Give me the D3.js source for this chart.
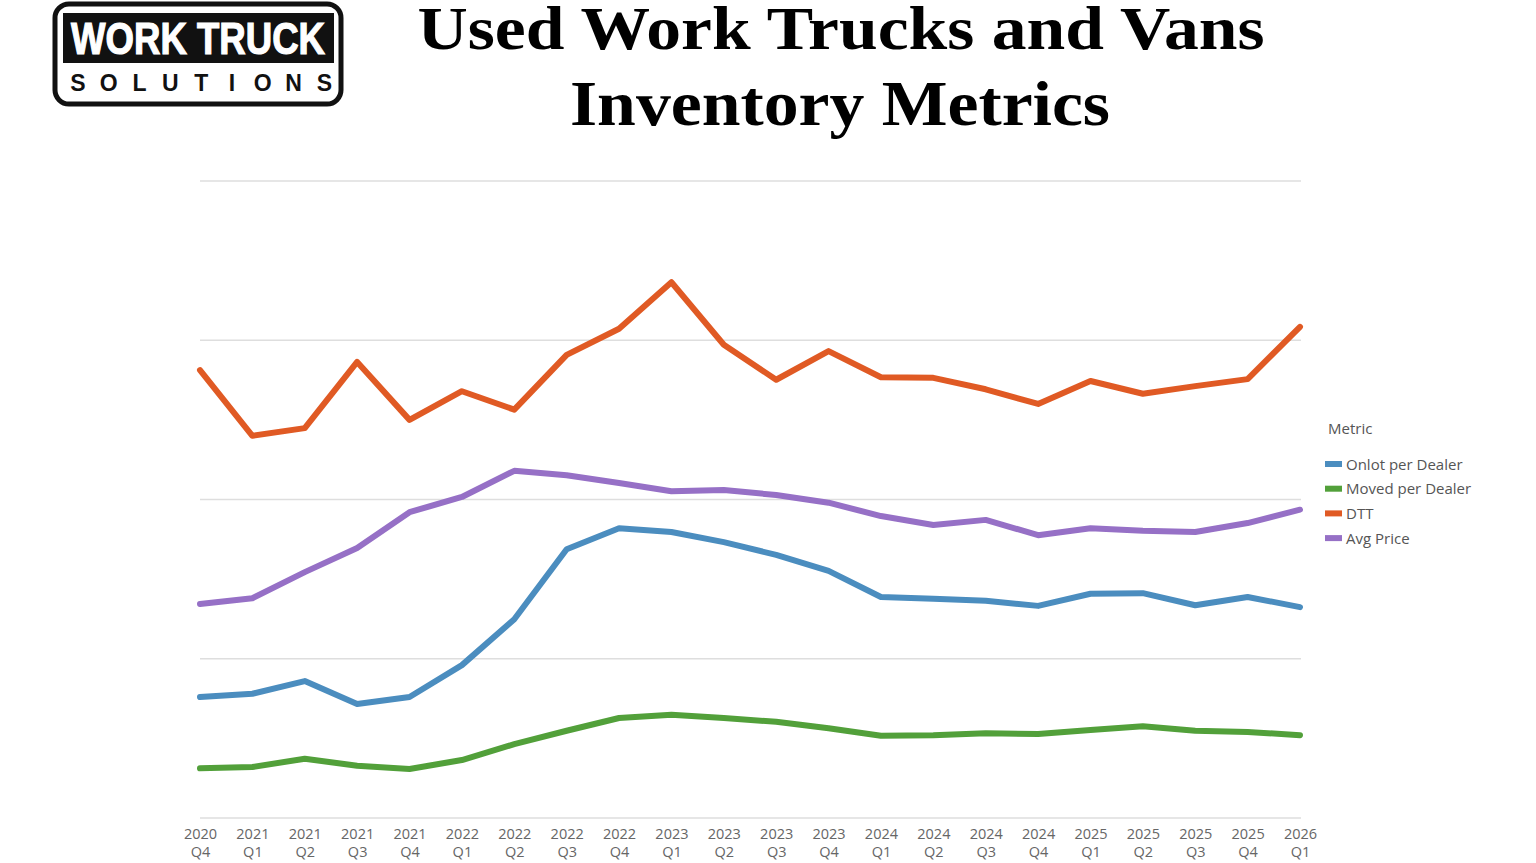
<!DOCTYPE html>
<html>
<head>
<meta charset="utf-8">
<script src="https://cdn.jsdelivr.net/npm/d3@7"></script>
<style>
  body { margin: 0; background: #fff; }
  svg { display: block; }
</style>
</head>
<body>
<div id="chart"></div>
<script>
// Quarters on the x axis (year / quarter)
const quarters = ["2020 Q4", "2021 Q1", "2021 Q2", "2021 Q3", "2021 Q4", "2022 Q1", "2022 Q2", "2022 Q3",
  "2022 Q4", "2023 Q1", "2023 Q2", "2023 Q3", "2023 Q4", "2024 Q1", "2024 Q2", "2024 Q3", "2024 Q4",
  "2025 Q1", "2025 Q2", "2025 Q3", "2025 Q4", "2026 Q1"];

// Values (no axis labels in the source, so an index 0-100)
const onlot = [19.0, 19.5, 21.5, 17.9, 19.0, 24.0, 31.2, 42.2, 45.5, 44.9, 43.3, 41.3, 38.8, 34.7, 34.4, 34.1, 33.3, 35.2, 35.3, 33.4, 34.7, 33.1];
const moved = [7.8, 8.0, 9.3, 8.2, 7.7, 9.1, 11.6, 13.7, 15.7, 16.2, 15.7, 15.1, 14.1, 12.9, 13.0, 13.3, 13.2, 13.8, 14.4, 13.7, 13.5, 13.0];
const dtt = [70.3, 60.0, 61.2, 71.6, 62.5, 67.0, 64.1, 72.7, 76.8, 84.1, 74.3, 68.8, 73.3, 69.2, 69.1, 67.3, 65.0, 68.6, 66.6, 67.8, 68.9, 77.1];
const avgPrice = [33.6, 34.5, 38.6, 42.4, 48.0, 50.4, 54.5, 53.8, 52.6, 51.3, 51.5, 50.7, 49.5, 47.4, 46.0, 46.8, 44.4, 45.5, 45.1, 44.9, 46.3, 48.4];
const gridTicks = [0, 25, 50, 75, 100];

const metricNames = ["Onlot per Dealer", "Moved per Dealer", "DTT", "Avg Price"];
const metricColors = ["#4b8dbf", "#52a03a", "#e05a24", "#9670c6"];
const metricValues = [onlot, moved, dtt, avgPrice];

const W = 1536, H = 863;
const svg = d3.select('#chart').append('svg')
    .attr('width', W)
    .attr('height', H);

const x = d3.scalePoint().domain(quarters).range([200, 1300]);
const y = d3.scaleLinear().domain([0, 100]).range([818, 181]);

// grid lines
svg.append('g')
   .selectAll('line')
   .data(gridTicks)
   .enter()
   .append('line')
   .attr('x1', 200)
   .attr('x2', 1301)
   .attr('y1', d => y(d))
   .attr('y2', d => y(d))
   .attr('stroke', '#dedede')
   .attr('stroke-width', 1.5);

// x axis labels, two lines each
const xAxis = svg.append('g')
    .attr('transform', 'translate(0,818)')
    .call(d3.axisBottom(x).tickSize(0).tickPadding(0));
xAxis.select('.domain').remove();
xAxis.selectAll('.tick text').remove();
xAxis.selectAll('.tick').each(function(d) {
    const parts = d.split(' ');
    const t = d3.select(this).append('text')
        .attr('text-anchor', 'middle')
        .attr('fill', '#666')
        .style('font-family', '"Open Sans", sans-serif')
        .style('font-size', '14.5px');
    t.append('tspan').attr('x', 0).attr('y', 21).text(parts[0]);
    t.append('tspan').attr('x', 0).attr('y', 39).text(parts[1]);
});

// lines
const line = d3.line()
    .x((d, i) => x(quarters[i]))
    .y(d => y(d));

svg.append('g')
   .selectAll('path')
   .data(metricValues)
   .enter()
   .append('path')
   .attr('d', d => line(d))
   .attr('fill', 'none')
   .attr('stroke', (d, i) => metricColors[i])
   .attr('stroke-width', 6)
   .attr('stroke-linejoin', 'round')
   .attr('stroke-linecap', 'round');

// legend
const legend = svg.append('g').attr('transform', 'translate(1325,0)');
legend.append('text')
    .attr('x', 3)
    .attr('y', 434)
    .attr('fill', '#555')
    .style('font-family', '"Open Sans", sans-serif')
    .style('font-size', '15px')
    .text('Metric');
const items = legend.selectAll('g.item')
    .data(metricNames)
    .enter()
    .append('g')
    .attr('class', 'item')
    .attr('transform', (d, i) => 'translate(0,' + (464 + i * 24.7) + ')');
items.append('rect')
    .attr('x', 0)
    .attr('y', -3)
    .attr('width', 17)
    .attr('height', 6)
    .attr('fill', (d, i) => metricColors[i]);
items.append('text')
    .attr('x', 21)
    .attr('y', 5.5)
    .attr('fill', '#555')
    .style('font-family', '"Open Sans", sans-serif')
    .style('font-size', '15px')
    .text(d => d);

// title
const title = svg.append('g')
    .style('font-family', '"Liberation Serif", "Times New Roman", serif')
    .style('font-weight', 'bold')
    .attr('fill', '#000');
title.append('text')
    .attr('x', 841).attr('y', 49)
    .attr('text-anchor', 'middle')
    .attr('textLength', 847)
    .attr('lengthAdjust', 'spacingAndGlyphs')
    .style('font-size', '62px')
    .text('Used Work Trucks and Vans');
title.append('text')
    .attr('x', 840).attr('y', 125)
    .attr('text-anchor', 'middle')
    .attr('textLength', 540)
    .attr('lengthAdjust', 'spacingAndGlyphs')
    .style('font-size', '63px')
    .text('Inventory Metrics');

// logo
const logo = svg.append('g');
logo.append('rect')
    .attr('x', 55).attr('y', 4)
    .attr('width', 286).attr('height', 100)
    .attr('rx', 14)
    .attr('fill', '#fff')
    .attr('stroke', '#111')
    .attr('stroke-width', 5);
logo.append('rect')
    .attr('x', 63).attr('y', 13)
    .attr('width', 271).attr('height', 50)
    .attr('fill', '#111');
logo.append('text')
    .attr('x', 198).attr('y', 54)
    .attr('text-anchor', 'middle')
    .attr('textLength', 254)
    .attr('lengthAdjust', 'spacingAndGlyphs')
    .attr('fill', '#fff')
    .attr('stroke', '#fff')
    .attr('stroke-width', 1.2)
    .style('font-family', '"Liberation Sans Narrow", "Liberation Sans", Arial, sans-serif')
    .style('font-weight', 'bold')
    .style('font-size', '44px')
    .text('WORK TRUCK');
const solutions = 'SOLUTIONS'.split('');
logo.append('g')
    .selectAll('text')
    .data(solutions)
    .enter()
    .append('text')
    .attr('x', (d, i) => 78 + i * 30.8)
    .attr('y', 91)
    .attr('text-anchor', 'middle')
    .attr('fill', '#111')
    .style('font-family', '"Liberation Sans", Arial, sans-serif')
    .style('font-weight', 'bold')
    .style('font-size', '23px')
    .text(d => d);
</script>
</body>
</html>
